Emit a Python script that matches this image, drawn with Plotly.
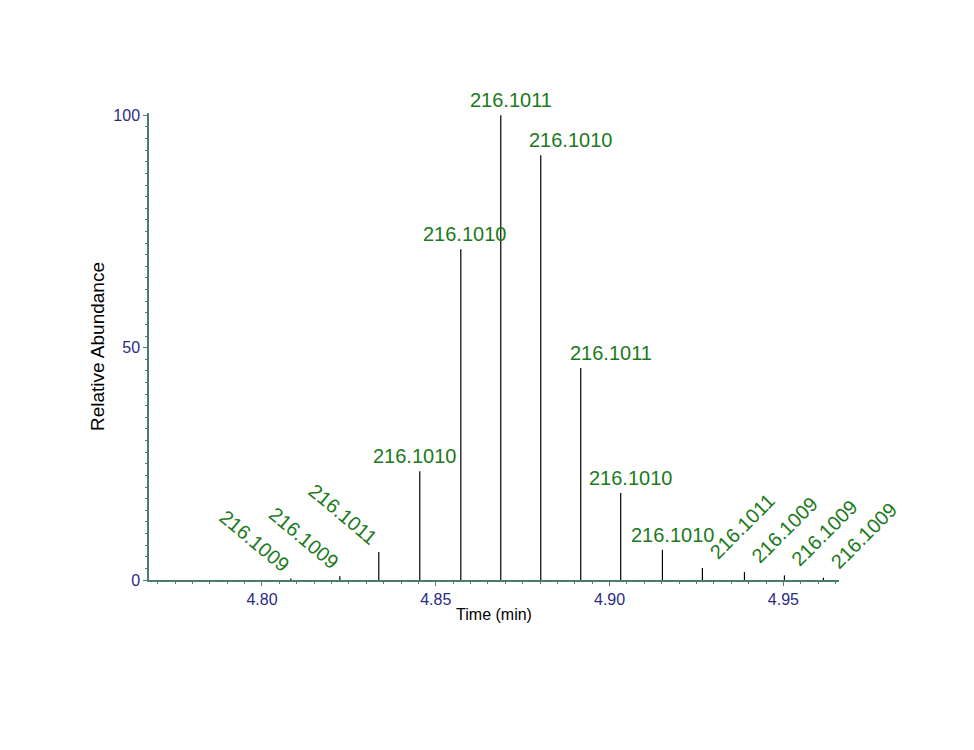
import plotly.graph_objects as go

times = [4.8083, 4.8224, 4.8336, 4.8454, 4.8572, 4.8687, 4.8802, 4.8917, 4.9032, 4.9152, 4.9267, 4.9388, 4.9503, 4.9615]
abund = [0.3, 0.8, 6.0, 23.4, 71.2, 100.0, 91.4, 45.6, 18.7, 6.5, 2.6, 1.7, 1.0, 0.5]
masses = ["216.1009", "216.1009", "216.1011", "216.1010", "216.1010", "216.1011", "216.1010",
          "216.1011", "216.1010", "216.1010", "216.1011", "216.1009", "216.1009", "216.1009"]

xs, ys = [], []
for t, a in zip(times, abund):
    xs += [t, t, None]
    ys += [0, a, None]

fig = go.Figure(go.Scatter(x=xs, y=ys, mode="lines", line=dict(color="black", width=1.2),
                           hoverinfo="skip", showlegend=False))

green = "#1b7a1b"
fnt = dict(size=20, color=green, family="Liberation Sans")
anns = []
for i, (t, a, m) in enumerate(zip(times, abund, masses)):
    if i <= 2:
        anns.append(dict(x=t, y=a, text=m, showarrow=False, textangle=40,
                         xshift=-36, yshift=38, font=fnt))
    elif i <= 9:
        anns.append(dict(x=t, y=a, text=m, showarrow=False, yanchor="bottom",
                         xshift=(-5 if i == 3 else 4 if i == 4 else 30 if i in (6, 7) else 10),
                         yshift=2, font=fnt))
    else:
        anns.append(dict(x=t, y=a, text=m, showarrow=True, arrowhead=0, arrowwidth=1,
                         arrowcolor="#7a7a50", ax=40, ay=-42, startstandoff=26,
                         textangle=-45, font=fnt))

fig.update_layout(
    width=974, height=750, plot_bgcolor="white", paper_bgcolor="white",
    margin=dict(l=141, r=143, t=105, b=178),
    annotations=anns,
    font=dict(family="Liberation Sans"),
    xaxis=dict(range=[4.7675, 4.966], tickvals=[4.80, 4.85, 4.90, 4.95], ticktext=["4.80", "4.85", "4.90", "4.95"],
               showgrid=False, zeroline=False, showline=True, linecolor="#4a7a70", linewidth=1.5,
               ticks="outside", ticklen=4, tickcolor="#4a7a70",
               minor=dict(dtick=0.005, ticks="outside", ticklen=2, tickcolor="#4a7a70"),
               tickfont=dict(size=16, color="#2b2b85"),
               title=dict(text="Time (min)", font=dict(size=16, color="black"), standoff=2)),
    yaxis=dict(range=[0, 100.5], tickvals=[0, 50, 100], showgrid=False, zeroline=False,
               showline=True, linecolor="#4a7a70", linewidth=1.5,
               ticks="outside", ticklen=4, tickcolor="#4a7a70",
               minor=dict(dtick=2.5, ticks="outside", ticklen=2, tickcolor="#4a7a70"),
               tickfont=dict(size=16, color="#2b2b85"),
               title=dict(text="Relative Abundance", font=dict(size=19, color="black"), standoff=4)),
)
fig.write_html("out.html")
